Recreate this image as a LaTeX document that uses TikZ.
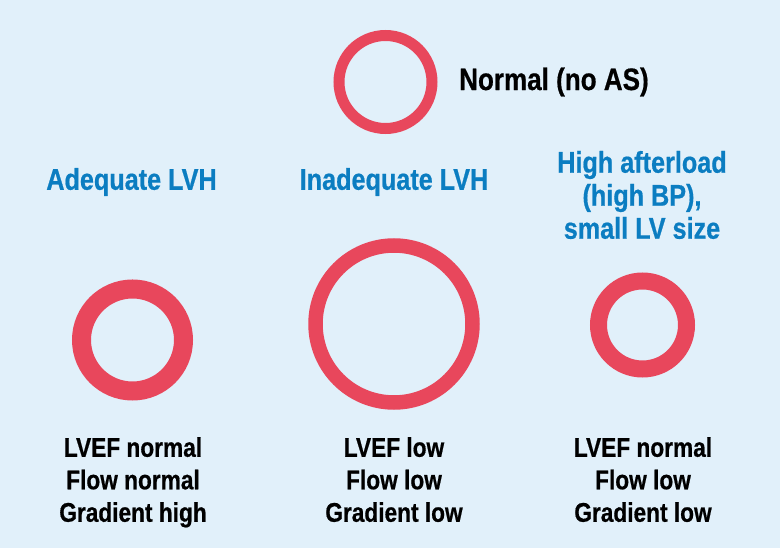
\documentclass[tikz,border=0pt]{standalone}
\usepackage{fontspec}
\setmainfont{Liberation Sans}[FakeStretch=0.84, BoldFeatures={FakeBold=0.6}]
\definecolor{bgblue}{HTML}{E1F0FA}
\definecolor{ringred}{HTML}{E8475C}
\definecolor{headblue}{HTML}{0B7DC1}
\begin{document}
\begin{tikzpicture}[x=1pt,y=-1pt,
  ring/.style={draw=ringred},
  txt/.style={font=\bfseries\fontsize{27}{32.5}\selectfont, align=center, inner sep=0pt, anchor=north},
  head/.style={txt, text=headblue, font=\bfseries\fontsize{30}{33}\selectfont, anchor=center}]
\fill[bgblue] (0,0) rectangle (780,548);
\useasboundingbox (0,0) rectangle (780,548);
% ventricles
\coordinate (N) at (385.5,82);
\coordinate (A) at (132.5,340);
\coordinate (I) at (394,324);
\coordinate (H) at (642.5,325);
\draw[ring, line width=11pt] (N) circle (46.5pt);
\draw[ring, line width=19pt] (A) circle (51pt);
\draw[ring, line width=14.5pt] (I) circle (78.5pt);
\draw[ring, line width=17pt] (H) circle (44pt);
% labels
\node[txt, anchor=west, font=\bfseries\fontsize{31}{33}\selectfont] (normal) at (459,82) {Normal (no AS)};
\node[head] (adequate) at (131.5,182) {Adequate LVH};
\node[head] (inadequate) at (394,182) {Inadequate LVH};
\node[head] (afterload) at (642,195) {High afterload\\(high BP),\\small LV size};
\node[txt] (leftvals) at (133,437) {LVEF normal\\Flow normal\\Gradient high};
\node[txt] (midvals) at (394,437) {LVEF low\\Flow low\\Gradient low};
\node[txt] (rightvals) at (643,437) {LVEF normal\\Flow low\\Gradient low};
\end{tikzpicture}
\end{document}
